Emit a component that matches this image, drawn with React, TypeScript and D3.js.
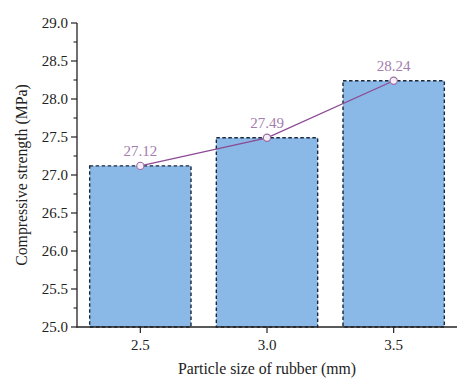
import React from "react";
import * as d3 from "d3";

const categories = [2.5, 3.0, 3.5];
const strength = [27.12, 27.49, 28.24];
const yTicks = [25.0, 25.5, 26.0, 26.5, 27.0, 27.5, 28.0, 28.5, 29.0];
const yMinor = [25.25, 25.75, 26.25, 26.75, 27.25, 27.75, 28.25, 28.75];

const W = 474, H = 392;
const FONT = '"Liberation Serif", "Times New Roman", Times, serif';
const fs = { fontFamily: FONT, fontSize: "15px" };
const fsT = { fontFamily: FONT, fontSize: "15.8px" };

export default function App() {
  const x = d3.scaleLinear().domain([2.25, 3.75]).range([77, 457]);
  const y = d3.scaleLinear().domain([25, 29]).range([327, 23]);
  const bw = (x(3.0) - x(2.5)) * 0.8;
  const line = d3.line<number>().x((_, i) => x(categories[i])).y((d) => y(d));
  const purple = "#8c4a94";
  return (
    <svg width={W} height={H} style={{ position: "absolute", left: 0, top: 0 }}>
      <rect width={W} height={H} fill="#fff" />
      {strength.map((v, i) => (
        <rect key={i} x={x(categories[i]) - bw / 2} y={y(v)} width={bw} height={y(25) - y(v)}
          fill="#8ab9e7" stroke="#1c2738" strokeWidth={1.4} strokeDasharray="3.5,2.5" />
      ))}
      <path d={line(strength) || ""} fill="none" stroke={purple} strokeWidth={1.3} />
      {strength.map((v, i) => (
        <circle key={i} cx={x(categories[i])} cy={y(v)} r={3.6} fill="#f6eef6" stroke="#9a6aa2" strokeWidth={1.1} />
      ))}
      {strength.map((v, i) => (
        <text key={i} x={x(categories[i])} y={y(v) - 10} textAnchor="middle" style={fs} fill="#a47cae">
          {v.toFixed(2)}
        </text>
      ))}
      <line x1={77} x2={77} y1={y(29)} y2={327.5} stroke="#222" strokeWidth={1.3} />
      <line x1={76.4} x2={457} y1={327} y2={327} stroke="#222" strokeWidth={1.3} />
      {yTicks.map((t) => (
        <g key={t}>
          <line x1={71} x2={77} y1={y(t)} y2={y(t)} stroke="#222" strokeWidth={1.2} />
          <text x={68} y={y(t)} dy="0.35em" textAnchor="end" style={fs} fill="#222">
            {t.toFixed(1)}
          </text>
        </g>
      ))}
      {yMinor.map((t) => (
        <line key={t} x1={73.5} x2={77} y1={y(t)} y2={y(t)} stroke="#222" strokeWidth={1.1} />
      ))}
      {categories.map((c) => (
        <g key={c}>
          <line x1={x(c)} x2={x(c)} y1={327} y2={333} stroke="#222" strokeWidth={1.2} />
          <text x={x(c)} y={350} textAnchor="middle" style={fs} fill="#222">
            {c.toFixed(1)}
          </text>
        </g>
      ))}
      <text x={267} y={373.5} textAnchor="middle" style={fsT} fill="#222">
        Particle size of rubber (mm)
      </text>
      <text transform={`translate(27,175) rotate(-90)`} textAnchor="middle" style={fsT} fill="#222">
        Compressive strength (MPa)
      </text>
    </svg>
  );
}
